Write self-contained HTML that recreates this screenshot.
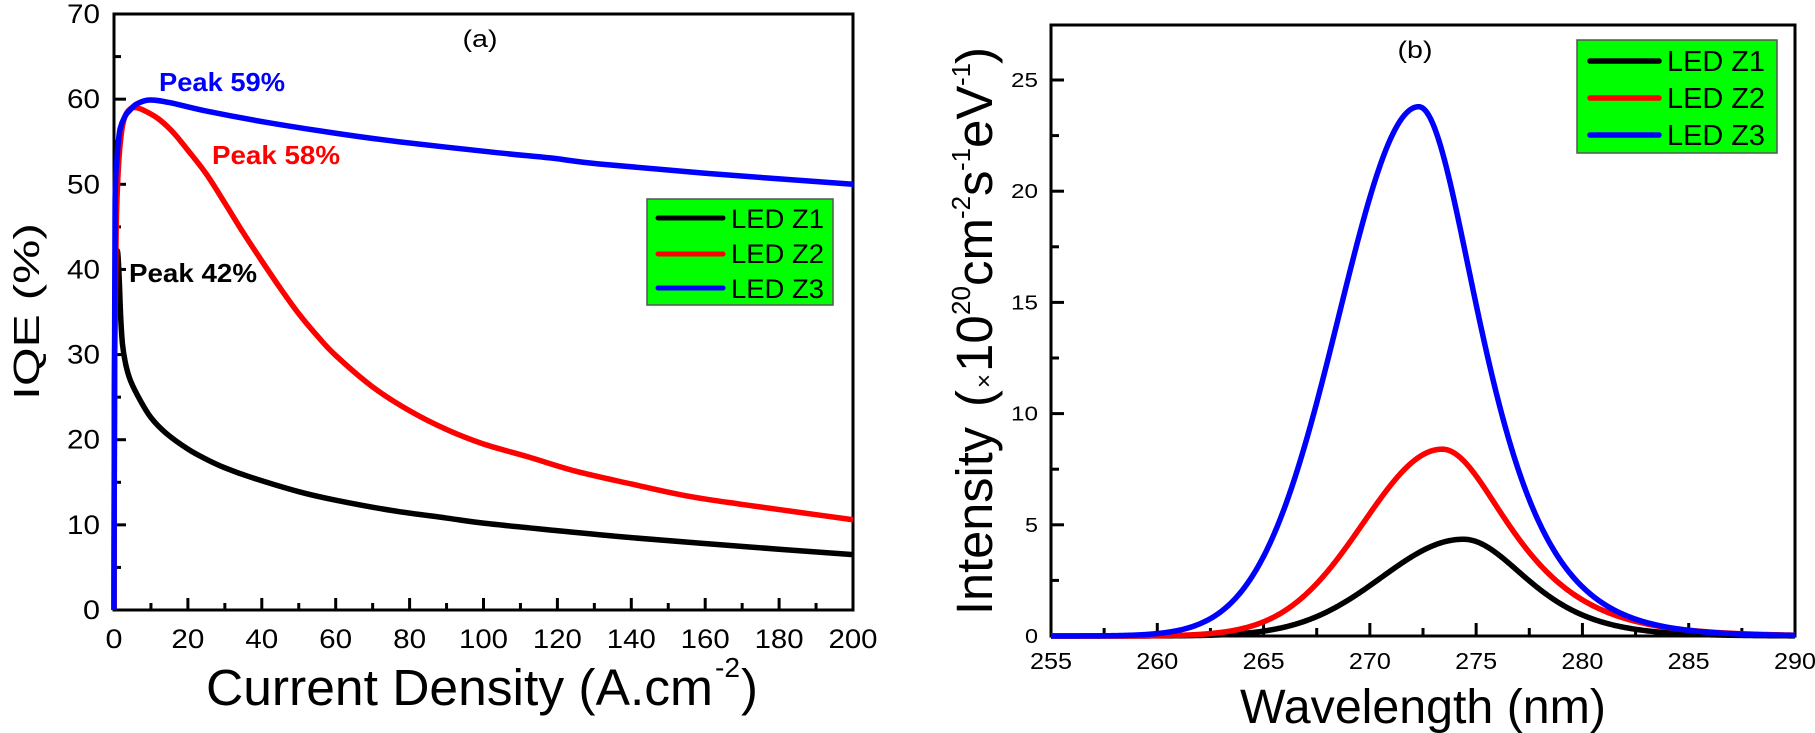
<!DOCTYPE html>
<html>
<head>
<meta charset="utf-8">
<style>
  html,body{margin:0;padding:0;background:#ffffff;}
  body{width:1815px;height:733px;overflow:hidden;}
  svg{display:block;}
  text{font-family:"Liberation Sans", Arial, sans-serif;fill:#000;}
</style>
</head>
<body>
<svg id="s" width="1815" height="733" viewBox="0 0 1815 733" xmlns="http://www.w3.org/2000/svg">
  <rect x="0" y="0" width="1815" height="733" fill="#ffffff"/>

  <!-- ================= PANEL A ================= -->
  <g id="ticksA" stroke="#000" stroke-width="3" fill="none"></g>
  <rect x="114" y="14" width="739" height="596" fill="none" stroke="#000" stroke-width="3"/>
  <g id="labelsA" font-size="27"></g>

  <text x="480" y="47" font-size="24" text-anchor="middle" textLength="35" lengthAdjust="spacingAndGlyphs">(a)</text>

  <text x="206" y="705" font-size="51" textLength="507" lengthAdjust="spacingAndGlyphs">Current Density (A.cm</text>
  <text x="715" y="677" font-size="28" textLength="25" lengthAdjust="spacingAndGlyphs">-2</text>
  <text x="741" y="705" font-size="51">)</text>

  <text transform="translate(39,400) rotate(-90)" font-size="36" textLength="177" lengthAdjust="spacingAndGlyphs">IQE (%)</text>

  <g id="curvesA"></g>

  <text x="159" y="91" font-size="26" font-weight="bold" style="fill:#0000ff" textLength="126" lengthAdjust="spacingAndGlyphs">Peak 59%</text>
  <text x="212" y="164" font-size="26" font-weight="bold" style="fill:#ff0000" textLength="128" lengthAdjust="spacingAndGlyphs">Peak 58%</text>
  <text x="129" y="282" font-size="26" font-weight="bold" textLength="128" lengthAdjust="spacingAndGlyphs">Peak 42%</text>

  <!-- legend a -->
  <rect x="647" y="199" width="186" height="106" fill="#00ff00" stroke="#555" stroke-width="1.5"/>
  <g stroke-width="5" stroke-linecap="round">
    <line x1="658" y1="218" x2="723" y2="218" stroke="#000"/>
    <line x1="658" y1="254" x2="723" y2="254" stroke="#ff0000"/>
    <line x1="658" y1="288" x2="723" y2="288" stroke="#0000ff"/>
  </g>
  <text x="731" y="228" font-size="27" textLength="93" lengthAdjust="spacingAndGlyphs">LED Z1</text>
  <text x="731" y="263" font-size="27" textLength="93" lengthAdjust="spacingAndGlyphs">LED Z2</text>
  <text x="731" y="298" font-size="27" textLength="93" lengthAdjust="spacingAndGlyphs">LED Z3</text>

  <!-- ================= PANEL B ================= -->
  <g id="ticksB" stroke="#000" stroke-width="3" fill="none"></g>
  <rect x="1051" y="25" width="744" height="611" fill="none" stroke="#000" stroke-width="3"/>
  <g id="labelsB"></g>

  <text x="1415" y="58" font-size="24" text-anchor="middle" textLength="35" lengthAdjust="spacingAndGlyphs">(b)</text>

  <text x="1240" y="723" font-size="48" textLength="366" lengthAdjust="spacingAndGlyphs">Wavelength (nm)</text>

  <g transform="translate(992,615) rotate(-90)">
    <text x="0" y="0" font-size="51" textLength="188" lengthAdjust="spacingAndGlyphs">Intensity</text>
    <text x="208" y="0" font-size="51">(</text>
    <text x="227" y="0" font-size="24">×</text>
    <text x="243" y="0" font-size="51">10</text>
    <text x="300" y="-22" font-size="26">20</text>
    <text x="329" y="0" font-size="51">cm</text>
    <text x="396" y="-22" font-size="26">-2</text>
    <text x="419" y="0" font-size="51">s</text>
    <text x="444" y="-22" font-size="26">-1</text>
    <text x="467" y="0" font-size="51">eV</text>
    <text x="529" y="-22" font-size="26">-1</text>
    <text x="551" y="0" font-size="51">)</text>
  </g>

  <g id="curvesB"></g>

  <!-- legend b -->
  <rect x="1577" y="40" width="200" height="113" fill="#00ff00" stroke="#555" stroke-width="1.5"/>
  <g stroke-width="5.5" stroke-linecap="round">
    <line x1="1590" y1="61" x2="1659" y2="61" stroke="#000"/>
    <line x1="1590" y1="98" x2="1659" y2="98" stroke="#ff0000"/>
    <line x1="1590" y1="135" x2="1659" y2="135" stroke="#0000ff"/>
  </g>
  <text x="1667" y="71" font-size="29" textLength="98" lengthAdjust="spacingAndGlyphs">LED Z1</text>
  <text x="1667" y="108" font-size="29" textLength="98" lengthAdjust="spacingAndGlyphs">LED Z2</text>
  <text x="1667" y="145" font-size="29" textLength="98" lengthAdjust="spacingAndGlyphs">LED Z3</text>
</svg>

<script>
(function(){
  var NS='http://www.w3.org/2000/svg';
  function el(parent,tag,attrs,txt){
    var e=document.createElementNS(NS,tag);
    for(var k in attrs){e.setAttribute(k,attrs[k]);}
    if(txt!==undefined){e.textContent=txt;}
    parent.appendChild(e);return e;
  }
  /* ---------- Panel A mapping ---------- */
  function XA(v){return 114+v*3.695;}
  function YA(v){return 610-v*8.514;}
  var tA=document.getElementById('ticksA');
  var lA=document.getElementById('labelsA');
  for(var v=0;v<=70;v+=5){
    var maj=(v%10===0);
    if(v>0&&v<70) el(tA,'line',{x1:114,y1:YA(v),x2:114+(maj?12:7),y2:YA(v)});
    if(maj){
      el(lA,'text',{x:100,y:(YA(v)+9).toFixed(1),'text-anchor':'end',textLength:(v===0?17:33),lengthAdjust:'spacingAndGlyphs','font-size':27},String(v));
    }
  }
  for(var v=0;v<=200;v+=10){
    var maj=(v%20===0);
    if(v>0&&v<200) el(tA,'line',{x1:XA(v),y1:610,x2:XA(v),y2:610-(maj?12:7)});
    if(maj){
      var s=String(v);
      el(lA,'text',{x:XA(v).toFixed(1),y:648,'text-anchor':'middle',textLength:(s.length===1?17:(s.length===2?33:49)),lengthAdjust:'spacingAndGlyphs','font-size':27},s);
    }
  }
  function cr(pts){
    var d='M'+pts[0][0].toFixed(2)+','+pts[0][1].toFixed(2);
    for(var i=0;i<pts.length-1;i++){
      var p0=pts[i-1]||pts[i],p1=pts[i],p2=pts[i+1],p3=pts[i+2]||pts[i+1];
      var c1x=p1[0]+(p2[0]-p0[0])/6,c1y=p1[1]+(p2[1]-p0[1])/6;
      var c2x=p2[0]-(p3[0]-p1[0])/6,c2y=p2[1]-(p3[1]-p1[1])/6;
      d+='C'+c1x.toFixed(2)+','+c1y.toFixed(2)+' '+c2x.toFixed(2)+','+c2y.toFixed(2)+' '+p2[0].toFixed(2)+','+p2[1].toFixed(2);
    }
    return d;
  }
  function mapA(arr){return arr.map(function(p){return [XA(p[0]),YA(p[1])];});}
  var black=[[0,0],[0.1,25],[0.3,38],[0.6,41.5],[1.0,42],[1.4,39],[1.8,34.5],[2.3,31.2],[3.2,28.8],[4.5,26.9],[7,24.7],[10,22.6],[14,20.8],[20,18.9],[25,17.7],[30,16.7],[37,15.6],[50,13.9],[60,12.9],[75,11.7],[90,10.8],[100,10.2],[118,9.4],[140,8.5],[172,7.4],[200,6.5]];
  var red=[[0,0],[0.2,30],[0.6,45],[1.2,52],[2,56],[3,58],[4.5,58.9],[6,59],[8,58.7],[12,57.7],[16,56.1],[20,54],[25,51.2],[30,47.8],[35,44.3],[40,41],[45,37.8],[50,34.8],[55,32.2],[60,29.9],[70,26.2],[80,23.4],[90,21.2],[100,19.5],[112,18],[125,16.3],[140,14.8],[155,13.4],[170,12.4],[185,11.5],[200,10.6]];
  var blue=[[0,0],[0.15,30],[0.3,48],[0.8,53],[1.6,56.4],[3,58],[4.3,58.7],[6,59.4],[9.5,59.9],[15,59.6],[25,58.6],[41,57.3],[60,56],[77,55],[104,53.7],[118,53.1],[131,52.4],[160,51.3],[200,50]];
  var cA=document.getElementById('curvesA');
  [[black,'#000000'],[red,'#ff0000'],[blue,'#0000ff']].forEach(function(c){
    el(cA,'path',{d:cr(mapA(c[0])),fill:'none',stroke:c[1],'stroke-width':5.5,'stroke-linejoin':'round','stroke-linecap':'butt'});
  });

  /* ---------- Panel B mapping ---------- */
  function XB(l){return 1051+(l-255)*21.257;}
  function YB(v){return 636-v*22.24;}
  var tB=document.getElementById('ticksB');
  var lB=document.getElementById('labelsB');
  for(var v=0;v<=25.01;v+=2.5){
    var maj=(Math.abs(v/5-Math.round(v/5))<1e-6);
    if(v>0) el(tB,'line',{x1:1051,y1:YB(v),x2:1051+(maj?13:8),y2:YB(v)});
    if(maj){
      var s=String(Math.round(v));
      el(lB,'text',{x:1038,y:(YB(v)+7).toFixed(1),'text-anchor':'end',textLength:(s.length===1?13:27),lengthAdjust:'spacingAndGlyphs','font-size':20},s);
    }
  }
  for(var l=255;l<=290.01;l+=2.5){
    var maj=(Math.abs(l/5-Math.round(l/5))<1e-6);
    if(l>255.01&&l<289.99) el(tB,'line',{x1:XB(l),y1:636,x2:XB(l),y2:636-(maj?13:8)});
    if(maj){
      el(lB,'text',{x:XB(l).toFixed(1),y:669,'text-anchor':'middle',textLength:42,lengthAdjust:'spacingAndGlyphs','font-size':23},String(Math.round(l)));
    }
  }
  function spec(A,l0,sL,a,b){
    var pts=[];
    for(var i=0;i<=700;i++){
      var l=255+i*0.05;
      var d=l-l0,v;
      if(d<0){v=A*Math.exp(-d*d/(2*sL*sL));}
      else{v=A*Math.exp(-b*(Math.sqrt(1+(d/a)*(d/a))-1));}
      pts.push(XB(l).toFixed(2)+','+YB(v).toFixed(2));
    }
    return 'M'+pts.join('L');
  }
  var cB=document.getElementById('curvesB');
  el(cB,'path',{d:spec(4.35,274.4,3.85,4,2.12),fill:'none',stroke:'#000000','stroke-width':5.5,'stroke-linejoin':'round'});
  el(cB,'path',{d:spec(8.4,273.4,3.7,3,1.16),fill:'none',stroke:'#ff0000','stroke-width':5.5,'stroke-linejoin':'round'});
  el(cB,'path',{d:spec(23.8,272.3,3.75,3,1.355),fill:'none',stroke:'#0000ff','stroke-width':5.5,'stroke-linejoin':'round'});
})();
</script>
</body>
</html>
